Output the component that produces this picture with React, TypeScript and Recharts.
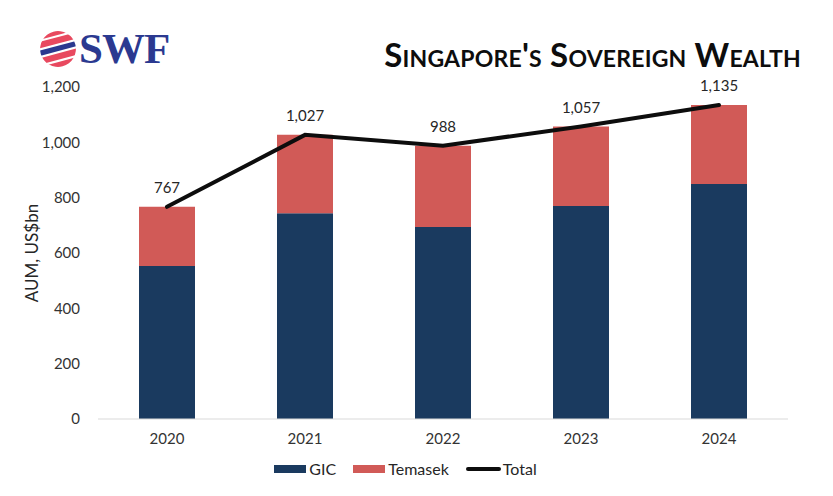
import React from 'react';
import { ComposedChart, Bar, Line, XAxis, YAxis, Legend, LabelList } from 'recharts';

const years = ['2020', '2021', '2022', '2023', '2024'];
const gic = [553, 744, 694, 770, 849];
const temasek = [214, 283, 294, 287, 286];
const total = [767, 1027, 988, 1057, 1135];
const yTicks = [0, 200, 400, 600, 800, 1000, 1200];

const data = years.map((y, i) => ({ year: y, GIC: gic[i], Temasek: temasek[i], Total: total[i] }));

const NAVY = '#1A3A5F';
const RED = '#D15A57';
const FONT = 'Lato, "Open Sans", sans-serif';

const fmt = (v: any) => Number(v).toLocaleString('en-US');

const LegendContent = (props: any) => {
  const { payload } = props;
  return (
    <div style={{ display: 'flex', justifyContent: 'center', alignItems: 'center', fontFamily: FONT, fontSize: 16, color: '#262626', paddingLeft: 40 }}>
      {payload.map((p: any) => (
        <div key={p.value} style={{ display: 'flex', alignItems: 'center', marginRight: 17 }}>
          {p.value === 'Total' ? (
            <div style={{ width: 35, height: 4, background: p.color, borderRadius: 2, marginRight: 2 }} />
          ) : (
            <div style={{ width: 32, height: 8, background: p.color, marginRight: 3 }} />
          )}
          <span>{p.value}</span>
        </div>
      ))}
    </div>
  );
};

const Logo = () => (
  <div style={{ position: 'absolute', left: 38, top: 24, display: 'flex', alignItems: 'center' }}>
    <svg width={40} height={40} viewBox="0 0 38 38">
      <defs>
        <clipPath id="c"><circle cx={19} cy={19} r={17} /></clipPath>
      </defs>
      <g clipPath="url(#c)" transform="rotate(-15 19 19)">
        <rect x={0} y={0} width={38} height={6} fill="#E8495F" />
        <rect x={0} y={8} width={38} height={6} fill="#E8495F" />
        <rect x={0} y={16} width={38} height={5} fill="#2B3990" />
        <rect x={0} y={23} width={38} height={6} fill="#E8495F" />
        <rect x={0} y={31} width={38} height={7} fill="#E8495F" />
      </g>
    </svg>
    <span style={{ fontFamily: '"Liberation Serif", "DejaVu Serif", serif', fontWeight: 700, fontSize: 43, color: '#2B3990', marginLeft: 1, letterSpacing: -1 }}>SWF</span>
  </div>
);

export default function App() {
  return (
    <div style={{ position: 'absolute', left: 0, top: 0, width: 833, height: 496, background: '#fff', fontFamily: FONT }}>
      <Logo />
      <div style={{ position: 'absolute', right: 32, top: 34, fontFamily: FONT, fontWeight: 700, fontSize: 33, fontVariant: 'small-caps', color: '#0d0d0d', letterSpacing: 0.2 }}>
        Singapore's Sovereign Wealth
      </div>
      <div style={{ position: 'absolute', left: 0, top: 0 }}>
        <ComposedChart width={833} height={496} data={data} margin={{ top: 87, right: 45, bottom: 0, left: 0 }} barCategoryGap="30%">
          <XAxis dataKey="year" axisLine={{ stroke: '#D9D9D9' }} tickLine={false} height={30} tick={{ fill: '#333', fontSize: 15, fontFamily: FONT }} tickMargin={8} />
          <YAxis width={98} domain={[0, 1200]} ticks={yTicks} axisLine={false} tickLine={false} tickFormatter={fmt} tick={{ fill: '#333', fontSize: 15, fontFamily: FONT }} tickMargin={12}
            label={{ value: 'AUM, US$bn', angle: -90, position: 'insideLeft', offset: 32, style: { fill: '#262626', fontSize: 17, fontFamily: FONT, textAnchor: 'middle' } }} />
          <Legend verticalAlign="bottom" height={47} content={<LegendContent />} wrapperStyle={{ top: 459, bottom: 'auto' }} />
          <Bar dataKey="GIC" stackId="a" fill={NAVY} isAnimationActive={false} barSize={56} />
          <Bar dataKey="Temasek" stackId="a" fill={RED} isAnimationActive={false} barSize={56} />
          <Line dataKey="Total" stroke="#0d0d0d" strokeWidth={4} dot={false} isAnimationActive={false} strokeLinecap="round">
            <LabelList dataKey="Total" position="top" offset={14} formatter={fmt} style={{ fill: '#262626', fontSize: 15, fontFamily: FONT }} />
          </Line>
        </ComposedChart>
      </div>
    </div>
  );
}
